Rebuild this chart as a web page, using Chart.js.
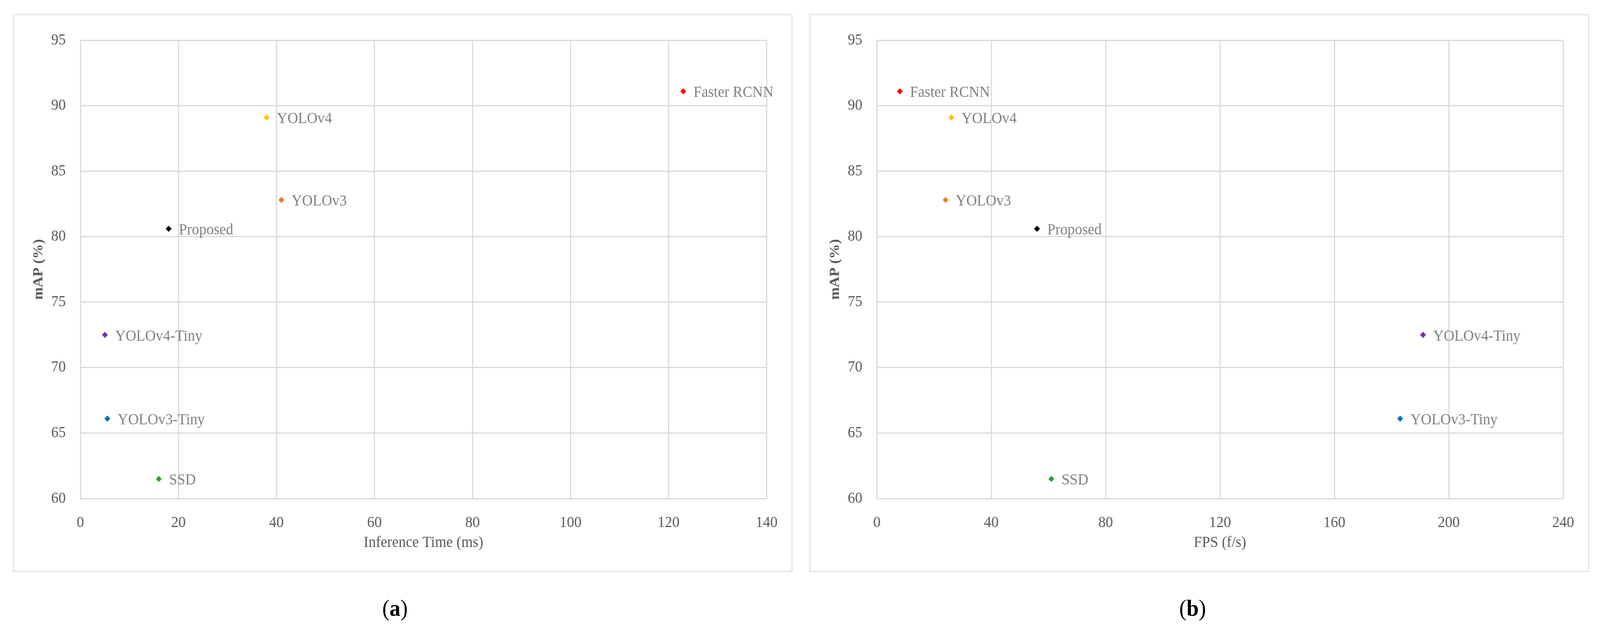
<!DOCTYPE html>
<html>
<head>
<meta charset="utf-8">
<script src="https://cdn.jsdelivr.net/npm/chart.js@4"></script>
<style>
  html, body { margin: 0; background: #fff; overflow: hidden; }
  #page { position: absolute; left: 0; top: 0; width: 4379px; height: 1615px; transform-origin: 0 0; }
  .panel { position: absolute; top: 36px; width: 2134px; height: 1428px; border: 3px solid #e3e3e3; box-sizing: border-box; }
  .caption { position: absolute; top: 1522px; font: 60px "Liberation Serif", serif; color: #000; transform: translateX(-50%); }
</style>
</head>
<body>
<div id="page">
  <div class="panel" style="left:35px"><canvas id="chart-a"></canvas></div>
  <div class="panel" style="left:2215px"><canvas id="chart-b"></canvas></div>
  <div class="caption" style="left:1081px">(<b>a</b>)</div>
  <div class="caption" style="left:3264px">(<b>b</b>)</div>
</div>
<script>
const models = ['Faster RCNN', 'YOLOv4', 'YOLOv3', 'Proposed', 'YOLOv4-Tiny', 'YOLOv3-Tiny', 'SSD'];
const mapValues = [91.1, 89.1, 82.8, 80.6, 72.5, 66.1, 61.5];
const inferenceTime = [123, 38, 41, 18, 5, 5.5, 16];
const fpsValues = [8, 26, 24, 56, 191, 183, 61];
const pointColors = ['#ff0000', '#ffc000', '#ed7d31', '#000000', '#7030a0', '#0070c0', '#2ca02c'];

const serif = '"Liberation Serif", "DejaVu Serif", serif';

// fit the fixed-size page into whatever viewport we get
const page = document.getElementById('page');
page.style.transform = `scale(${window.innerWidth / 4379}, ${window.innerHeight / 1615})`;

// draws the model name next to each point
const pointLabels = {
  id: 'pointLabels',
  afterDatasetsDraw(chart) {
    const ctx = chart.ctx;
    const meta = chart.getDatasetMeta(0);
    ctx.save();
    ctx.font = '40px ' + serif;
    ctx.fillStyle = '#7f7f7f';
    ctx.textBaseline = 'middle';
    meta.data.forEach((pt, i) => {
      ctx.fillText(models[i], pt.x + 28, pt.y + 4);
    });
    ctx.restore();
  }
};

function makeChart(id, xValues, xMax, xStep, xTitle) {
  const ctx = document.getElementById(id).getContext('2d');
  return new Chart(ctx, {
    type: 'scatter',
    data: {
      datasets: [{
        data: xValues.map((x, i) => ({ x: x, y: mapValues[i] })),
        pointStyle: 'rectRot',
        pointRadius: 8,
        backgroundColor: pointColors,
        borderColor: pointColors,
        borderWidth: 0
      }]
    },
    options: {
      responsive: true,
      maintainAspectRatio: false,
      animation: false,
      layout: { padding: { top: 26, right: 67, left: 0, bottom: 0 } },
      plugins: { legend: { display: false }, tooltip: { enabled: false } },
      scales: {
        x: {
          min: 0, max: xMax,
          afterFit: s => { s.height = 185; },
          grid: { color: '#d9d9d9', lineWidth: 3, drawTicks: false },
          border: { color: '#d9d9d9', width: 3 },
          ticks: { stepSize: xStep, color: '#595959', font: { family: serif, size: 40 }, padding: 38 },
          title: { display: true, text: xTitle, color: '#595959', font: { family: serif, size: 40 }, padding: { top: 0, bottom: 48 } }
        },
        y: {
          min: 60, max: 95,
          afterFit: s => { s.width = 182; },
          grid: { color: '#d9d9d9', lineWidth: 3, drawTicks: false },
          border: { color: '#d9d9d9', width: 3 },
          ticks: { stepSize: 5, color: '#595959', font: { family: serif, size: 40 }, padding: 40 },
          title: { display: true, text: 'mAP (%)', color: '#595959', font: { family: serif, size: 38, weight: 'bold' }, padding: { top: 45, bottom: 0 } }
        }
      }
    },
    plugins: [pointLabels]
  });
}

makeChart('chart-a', inferenceTime, 140, 20, 'Inference Time (ms)');
makeChart('chart-b', fpsValues, 240, 40, 'FPS (f/s)');
</script>
</body>
</html>
